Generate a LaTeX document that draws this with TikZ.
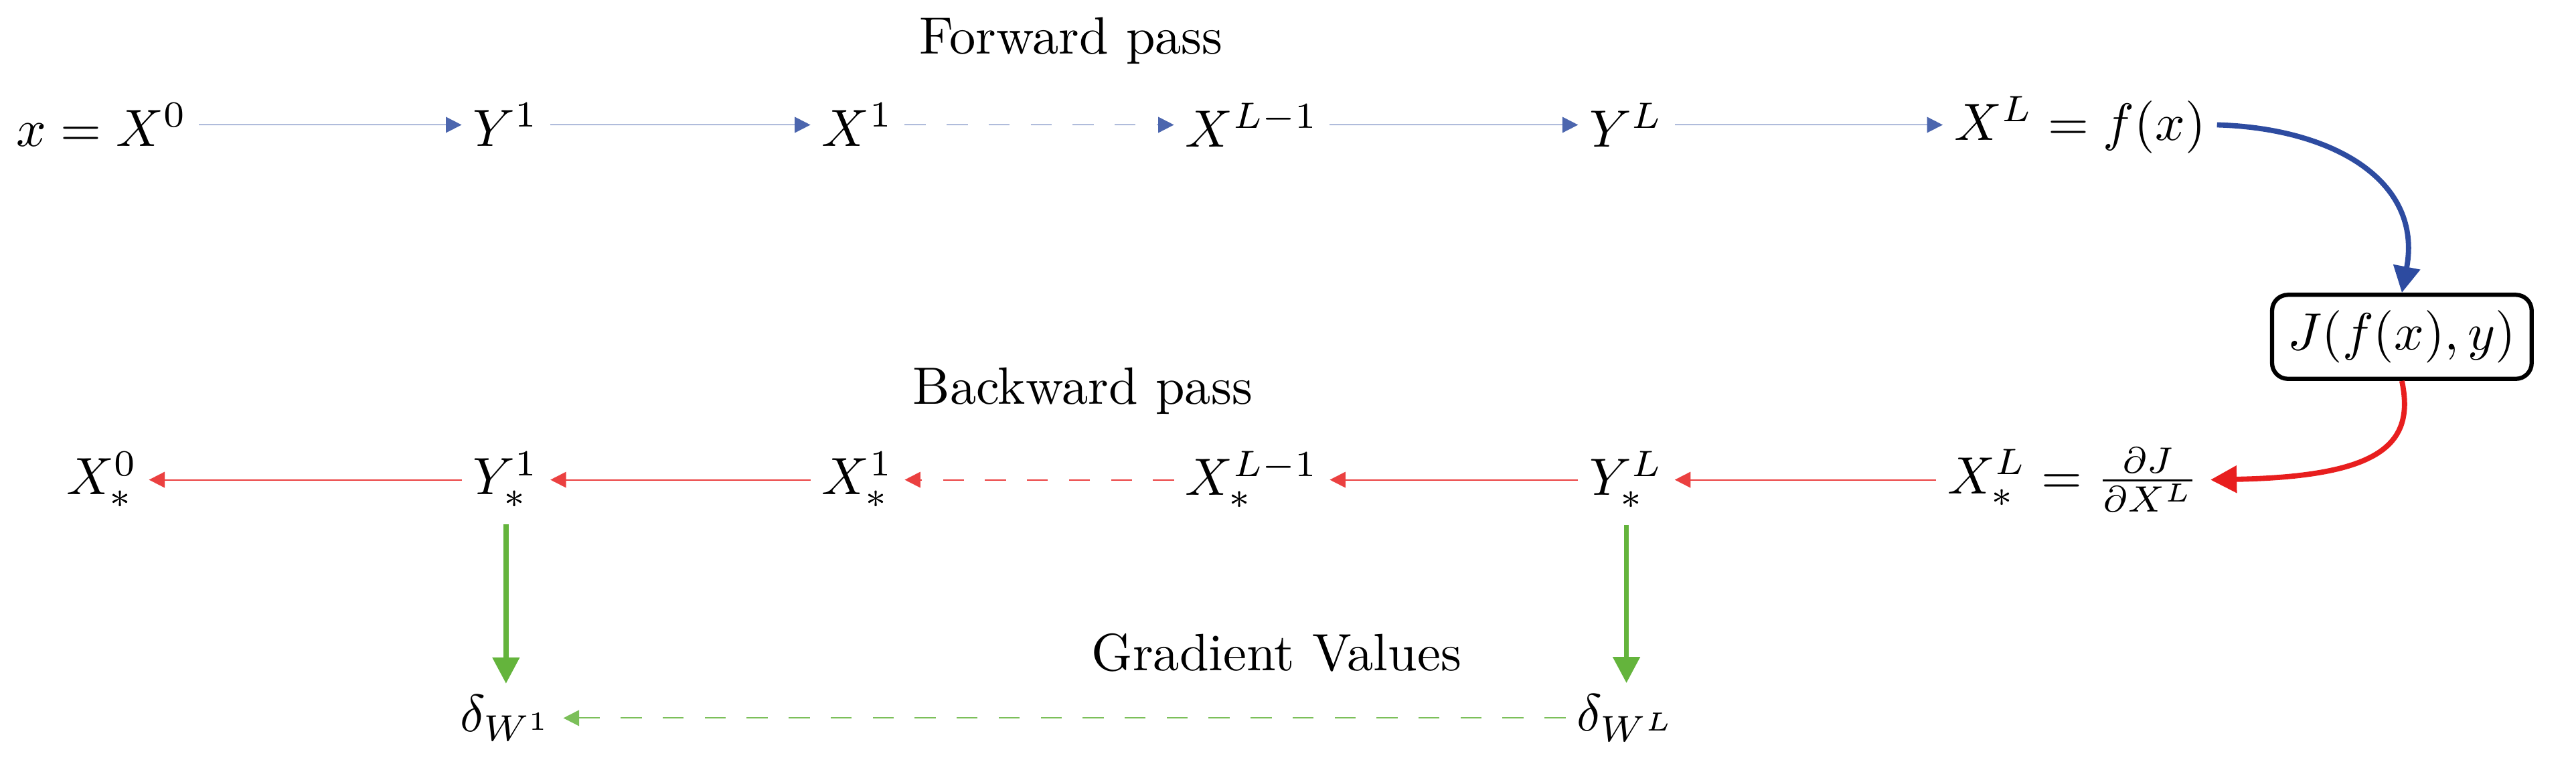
\documentclass[tikz,border=0pt]{standalone}
\usetikzlibrary{arrows.meta}
\definecolor{fblue}{RGB}{45,75,160}
\definecolor{bred}{RGB}{232,30,30}
\definecolor{ggreen}{RGB}{100,180,60}
\tikzset{
 lbl/.style={inner sep=2pt},
 ldash/.style={dash pattern=on 4pt off 4pt},
 fwd/.style={draw=fblue!85,line width=0.25pt,-{Triangle[length=3pt,width=3pt]}},
 bwd/.style={draw=bred!85,line width=0.25pt,-{Triangle[length=3pt,width=3pt]}},
 grd/.style={draw=ggreen,line width=1pt,-{Triangle[length=5pt,width=5pt]}},
 gdash/.style={draw=ggreen!85,line width=0.25pt,ldash,-{Triangle[length=3pt,width=3pt]}},
}
\begin{document}
\begin{tikzpicture}[x=0.011cm,y=-0.011cm]
\useasboundingbox (0,0) rectangle (1568,467);
\node[lbl] (x0) at (62,76) {$x=X^0$};
\node[lbl] (y1) at (308,76) {$Y^1$};
\node[lbl] (x1) at (522,76) {$X^1$};
\node[lbl] (xl1) at (762,76) {$X^{L-1}$};
\node[lbl] (yl) at (990,76) {$Y^L$};
\node[lbl] (xl) at (1266,76) {$X^L=f(x)$};
\node at (652,25) {Forward pass};
\node[draw,rounded corners=3pt,line width=0.8pt,inner sep=3pt] (J) at (1462,205) {$J(f(x),y)$};
\node at (659,238) {Backward pass};
\node[lbl] (bx0) at (62,292) {$X^0_*$};
\node[lbl] (by1) at (308,292) {$Y^1_*$};
\node[lbl] (bx1) at (522,292) {$X^1_*$};
\node[lbl] (bxl1) at (762,292) {$X^{L-1}_*$};
\node[lbl] (byl) at (990,292) {$Y^L_*$};
\node[lbl] (bxl) at (1262,292) {$X^L_*=\frac{\partial J}{\partial X^L}$};
\node[lbl] (dw1) at (308,437) {$\delta_{W^1}$};
\node[lbl] (dwl) at (990,437) {$\delta_{W^L}$};
\node at (777,397) {Gradient Values};
\draw[fwd] (x0) -- (y1);
\draw[fwd] (y1) -- (x1);
\draw[fwd,ldash] (x1) -- (xl1);
\draw[fwd] (xl1) -- (yl);
\draw[fwd] (yl) -- (xl);
\draw[draw=fblue,line width=1pt,-{Triangle[length=5pt,width=5pt]}] (xl.east) .. controls (1420,78) and (1475,110) .. (J.north);
\draw[draw=bred,line width=1pt,-{Triangle[length=5pt,width=5pt]}] (J.south) .. controls (1470,270) and (1450,290) .. (bxl.east);
\draw[bwd] (bxl) -- (byl);
\draw[bwd] (byl) -- (bxl1);
\draw[bwd,ldash] (bxl1) -- (bx1);
\draw[bwd] (bx1) -- (by1);
\draw[bwd] (by1) -- (bx0);
\draw[grd] (by1.south) ++(0,3) -- (dw1.north);
\draw[grd] (byl.south) ++(0,3) -- (dwl.north);
\draw[gdash] (dwl) -- (dw1);
\end{tikzpicture}
\end{document}
